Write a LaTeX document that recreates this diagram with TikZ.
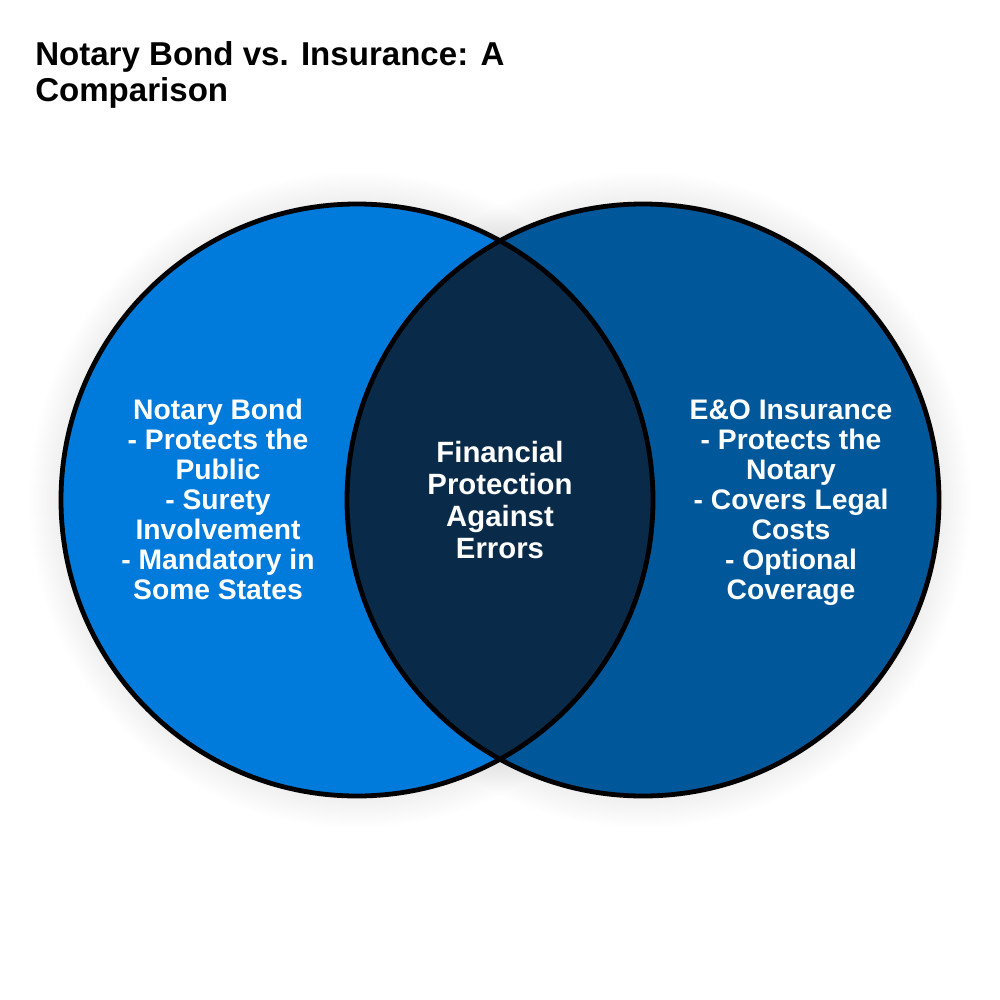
\documentclass[tikz,border=0pt]{standalone}
\usepackage{fontspec}
\setmainfont{Liberation Sans}
\definecolor{leftblue}{HTML}{007ADB}
\definecolor{rightblue}{HTML}{00589B}
\definecolor{midblue}{HTML}{0A2A4A}
\tikzset{
  ring/.style={draw=black,line width=3.6pt},
  glow/.style={fill=black,fill opacity=0.0025},
  lab/.style={text=white,align=center,inner sep=0pt,font=\fontsize{21.2}{22.5}\selectfont\bfseries},
  mid/.style={text=white,align=center,inner sep=0pt,font=\fontsize{22}{24}\selectfont\bfseries},
  ttl/.style={text=black,align=left,anchor=north west,inner sep=0pt,font=\fontsize{24.8}{26.6}\selectfont\bfseries}
}
\begin{document}
\begin{tikzpicture}[x=0.75pt,y=-0.75pt]
\useasboundingbox (0,0) rectangle (1000,1000);
\fill[white] (0,0) rectangle (1000,1000);
\foreach \r in {298,300,...,328} {
  \fill[glow] (357,500) circle[radius=\r];
  \fill[glow] (643,500) circle[radius=\r];
}
\fill[leftblue] (357,500) circle[radius=296];
\fill[rightblue] (643,500) circle[radius=296];
\begin{scope}
\clip (357,500) circle[radius=296];
\fill[midblue] (643,500) circle[radius=296];
\end{scope}
\draw[ring] (357,500) circle[radius=296];
\draw[ring] (643,500) circle[radius=296];
\node[ttl] (title) at (35,41.5) {Notary Bond vs. Insurance: A\\Comparison};
\node[lab] (left) at (218,499.5) {Notary Bond\\- Protects the\\Public\\- Surety\\Involvement\\- Mandatory in\\Some States};
\node[mid] (center) at (500,500) {Financial\\Protection\\Against\\Errors};
\node[lab] (right) at (791,502.5) {E\&O Insurance\\- Protects the\\Notary\\- Covers Legal\\Costs\\- Optional\\Coverage};
\end{tikzpicture}
\end{document}
